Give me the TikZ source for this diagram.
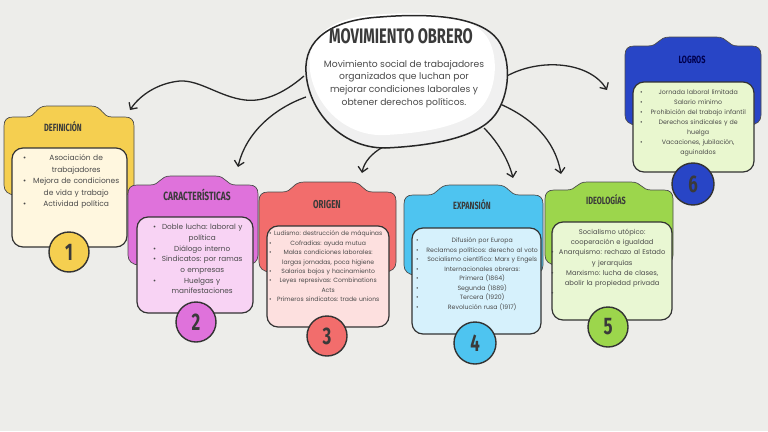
\documentclass[tikz,border=0pt]{standalone}
\usepackage{fontspec}
\setmainfont{Poppins}
\newfontfamily\headfont{Fira Sans}[FakeStretch=0.7]
\usetikzlibrary{arrows.meta}
\frenchspacing
\definecolor{bgcol}{HTML}{EDEDEA}
\definecolor{txtcol}{HTML}{4A4A4A}
\definecolor{headcol}{HTML}{3A3A3A}
\definecolor{cA}{HTML}{F5CF50}\definecolor{iA}{HTML}{FFF7DF}
\definecolor{cB}{HTML}{DF72DB}\definecolor{iB}{HTML}{F8D3F4}
\definecolor{cC}{HTML}{F26D6C}\definecolor{iC}{HTML}{FDE0DF}
\definecolor{cD}{HTML}{4EC4F0}\definecolor{iD}{HTML}{D6F1FC}
\definecolor{cE}{HTML}{9CD64C}\definecolor{iE}{HTML}{E9F7D3}
\definecolor{cF}{HTML}{2845C6}\definecolor{iF}{HTML}{E9F7CF}
\newlength\bulw \newlength\txtw
\newcommand\bl[1]{\noindent\makebox[\bulw][l]{\strut\textbullet}\makebox[\txtw][c]{#1}\par}
\newcommand\cl[1]{\noindent\makebox[\bulw][l]{\strut}\makebox[\txtw][c]{#1}\par}
% color, L, R, shoulder y, bump top y, bottom y
\newcommand\cardtab[6]{%
\pgfmathsetmacro\cx{(#2+#3)/2}\pgfmathsetmacro\hw{(#3-#2)/2}%
\filldraw[tabline, fill=#1] ({#2},{#6}) -- ({#2},{#4+9}) .. controls ({#2},{#4+3}) and ({#2+3},{#4}) .. ({#2+9},{#4})
 -- ({\cx-0.66*\hw},{#4}) .. controls ({\cx-0.5*\hw},{#4}) and ({\cx-0.52*\hw},{#5}) .. ({\cx-0.34*\hw},{#5})
 -- ({\cx+0.34*\hw},{#5}) .. controls ({\cx+0.52*\hw},{#5}) and ({\cx+0.5*\hw},{#4}) .. ({\cx+0.66*\hw},{#4})
 -- ({#3-9},{#4}) .. controls ({#3-3},{#4}) and ({#3},{#4+3}) .. ({#3},{#4+9})
 -- ({#3},{#6}) .. controls ({#3},{#6+6}) and ({#3-4},{#6+10}) .. ({#3-12},{#6+10})
 -- ({#2+12},{#6+10}) .. controls ({#2+4},{#6+10}) and ({#2},{#6+6}) .. ({#2},{#6}) -- cycle;}
\def\bubblepath{(306,72) .. controls (304,40) and (330,20) .. (380,17) .. controls (430,13) and (480,16) .. (498,40) .. controls (512,60) and (510,95) .. (495,115) .. controls (478,138) and (430,146) .. (385,148) .. controls (340,148) and (308,110) .. (306,72) -- cycle}
\begin{document}
\begin{tikzpicture}[x=1pt,y=-1pt,
  arr/.style={draw=black!85, line width=1.3pt, -{Straight Barb[length=5pt,width=10pt]}},
  tabline/.style={draw=black!70, line width=0.7pt},
  innerbox/.style={draw=black!80, line width=1.2pt, rounded corners=11pt, inner sep=0pt},
  numcirc/.style={circle, draw=black!80, line width=1.4pt, minimum size=40pt, inner sep=0pt, text=headcol, font=\headfont\bfseries\fontsize{24}{24}\selectfont},
  txt/.style={anchor=north west, inner sep=0pt, align=left, text=txtcol},
  ctitle/.style={inner sep=0pt, text=headcol}]
\path[use as bounding box, fill=bgcol] (0,0) rectangle (768,431);
% arrows
\coordinate (s1) at (304,76); \coordinate (e1) at (130,110);
\coordinate (s2) at (306,97); \coordinate (e2) at (238,167);
\coordinate (s3) at (383,147); \coordinate (e3) at (362,173);
\coordinate (s4) at (484,128); \coordinate (e4) at (513,178);
\coordinate (s5) at (500,104); \coordinate (e5) at (561,174);
\coordinate (s6) at (505,77); \coordinate (e6) at (607,90);
\draw[arr] (s1) .. controls (282,95) and (262,102) .. (245,100) .. controls (220,97) and (200,80) .. (180,81) .. controls (158,83) and (140,95) .. (e1);
\draw[arr] (s2) .. controls (275,108) and (246,132) .. (e2);
\draw[arr] (s3) .. controls (372,153) and (364,162) .. (e3);
\draw[arr] (s4) .. controls (496,140) and (508,158) .. (e4);
\draw[arr] (s5) .. controls (532,118) and (555,140) .. (e5);
\draw[arr] (s6) .. controls (540,57) and (590,62) .. (e6);
% bubble
\fill[black!6] \bubblepath;
\begin{scope}[shift={(396,68)},scale=0.92,shift={(-400,-75)}]
\fill[white] \bubblepath;
\end{scope}
\draw[black!85, line width=1.5pt] \bubblepath;
\node[font=\headfont\bfseries\fontsize{21}{21}\selectfont, text=headcol, inner sep=0pt] (ttl) at (401,36) {MOVIMIENTO OBRERO};
\node[font=\fontsize{9.2}{12.7}\selectfont, align=center, text=txtcol, inner sep=0pt] (desc) at (404,84) {Movimiento social de trabajadores\\organizados que luchan por\\mejorar condiciones laborales y\\obtener derechos políticos.};
% card 1
\cardtab{cA}{4}{134}{117}{106}{185}
\node[innerbox, fill=iA, minimum width=115pt, minimum height=99pt] (b1) at (69.5,197.5) {};
\node[txt, font=\fontsize{7.5}{11.5}\selectfont, text width=99pt] (l1) at (23,152.6) {\setlength\bulw{7pt}\setlength\txtw{92pt}%
\bl{Asociación de}\cl{trabajadores}\bl{Mejora de condiciones}\cl{de vida y trabajo}\bl{Actividad política}};
\node[ctitle, font=\headfont\bfseries\fontsize{10.5}{10}\selectfont] (h1) at (63,127) {DEFINICIÓN};
\node[numcirc, fill=cA] (n1) at (69,252) {1};
% card 2
\cardtab{cB}{128}{258}{185}{176}{255}
\node[innerbox, fill=iB, minimum width=116pt, minimum height=96pt] (b2) at (195,265) {};
\node[txt, font=\fontsize{7.3}{10.7}\selectfont, text width=91pt] (l2) at (153,222) {\setlength\bulw{7pt}\setlength\txtw{84pt}%
\bl{Doble lucha: laboral y}\cl{política}\bl{Diálogo interno}\bl{Sindicatos: por ramas}\cl{o empresas}\bl{Huelgas y}\cl{manifestaciones}};
\node[ctitle, font=\headfont\bfseries\fontsize{12}{12}\selectfont] (h2) at (197,195) {CARACTERÍSTICAS};
\node[numcirc, fill=cB] (n2) at (196,322) {2};
% card 3
\cardtab{cC}{259}{396}{192}{182}{262}
\node[innerbox, fill=iC, minimum width=122pt, minimum height=101pt] (b3) at (328,276.5) {};
\node[txt, font=\fontsize{6.1}{9.4}\selectfont, text width=111pt] (l3) at (269,229.2) {\setlength\bulw{6pt}\setlength\txtw{106pt}%
\bl{Ludismo: destrucción de máquinas}\bl{Cofradías: ayuda mutua}\bl{Malas condiciones laborales:}\cl{largas jornadas, poca higiene}\bl{Salarios bajos y hacinamiento}\bl{Leyes represivas: Combinations}\cl{Acts}\bl{Primeros sindicatos: trade unions}};
\node[ctitle, font=\headfont\bfseries\fontsize{11.5}{11}\selectfont] (h3) at (327,205) {ORIGEN};
\node[numcirc, fill=cC] (n3) at (327,336) {3};
% card 4
\cardtab{cD}{404}{543}{195}{185}{265}
\node[innerbox, fill=iD, minimum width=129pt, minimum height=106pt] (b4) at (476.5,281) {};
\node[txt, font=\fontsize{6.2}{9.5}\selectfont, text width=125pt] (l4) at (416,235.8) {\setlength\bulw{7pt}\setlength\txtw{118pt}%
\bl{Difusión por Europa}\bl{Reclamos políticos: derecho al voto}\bl{Socialismo científico: Marx y Engels}\bl{Internacionales obreras:}\bl{Primera (1864)}\bl{Segunda (1889)}\bl{Tercera (1920)}\bl{Revolución rusa (1917)}};
\node[ctitle, font=\headfont\bfseries\fontsize{10.5}{10}\selectfont] (h4) at (472,205) {EXPANSIÓN};
\node[numcirc, fill=cD, minimum size=42pt] (n4) at (475,343) {4};
% card 5
\cardtab{cE}{545}{673}{190}{182}{255}
\node[innerbox, fill=iE, minimum width=120pt, minimum height=98pt] (b5) at (612,271) {};
\node[txt, font=\fontsize{6.8}{10.1}\selectfont, text width=115pt] (l5) at (551,227.5) {\setlength\bulw{7pt}\setlength\txtw{108pt}%
\bl{Socialismo utópico:}\cl{cooperación e igualdad}\bl{Anarquismo: rechazo al Estado}\cl{y jerarquías}\bl{Marxismo: lucha de clases,}\cl{abolir la propiedad privada}\bl{}};
\node[ctitle, font=\headfont\bfseries\fontsize{10.5}{10}\selectfont] (h5) at (606,200) {IDEOLOGÍAS};
\node[numcirc, fill=cE] (n5) at (608,327) {5};
% card 6
\cardtab{cF}{625}{761}{46}{37}{115}
\node[innerbox, fill=iF, minimum width=121pt, minimum height=90pt] (b6) at (693.5,127) {};
\node[txt, font=\fontsize{6.3}{10}\selectfont, text width=109pt] (l6) at (640,87.5) {\setlength\bulw{7pt}\setlength\txtw{102pt}%
\bl{Jornada laboral limitada}\bl{Salario mínimo}\bl{Prohibición del trabajo infantil}\bl{Derechos sindicales y de}\cl{huelga}\bl{Vacaciones, jubilación,}\cl{aguinaldos}};
\node[ctitle, font=\headfont\bfseries\fontsize{10.5}{10}\selectfont, text=black!70!blue] (h6) at (692,60) {LOGROS};
\node[numcirc, fill=cF, minimum size=42pt] (n6) at (693,184) {6};
\end{tikzpicture}
\end{document}
